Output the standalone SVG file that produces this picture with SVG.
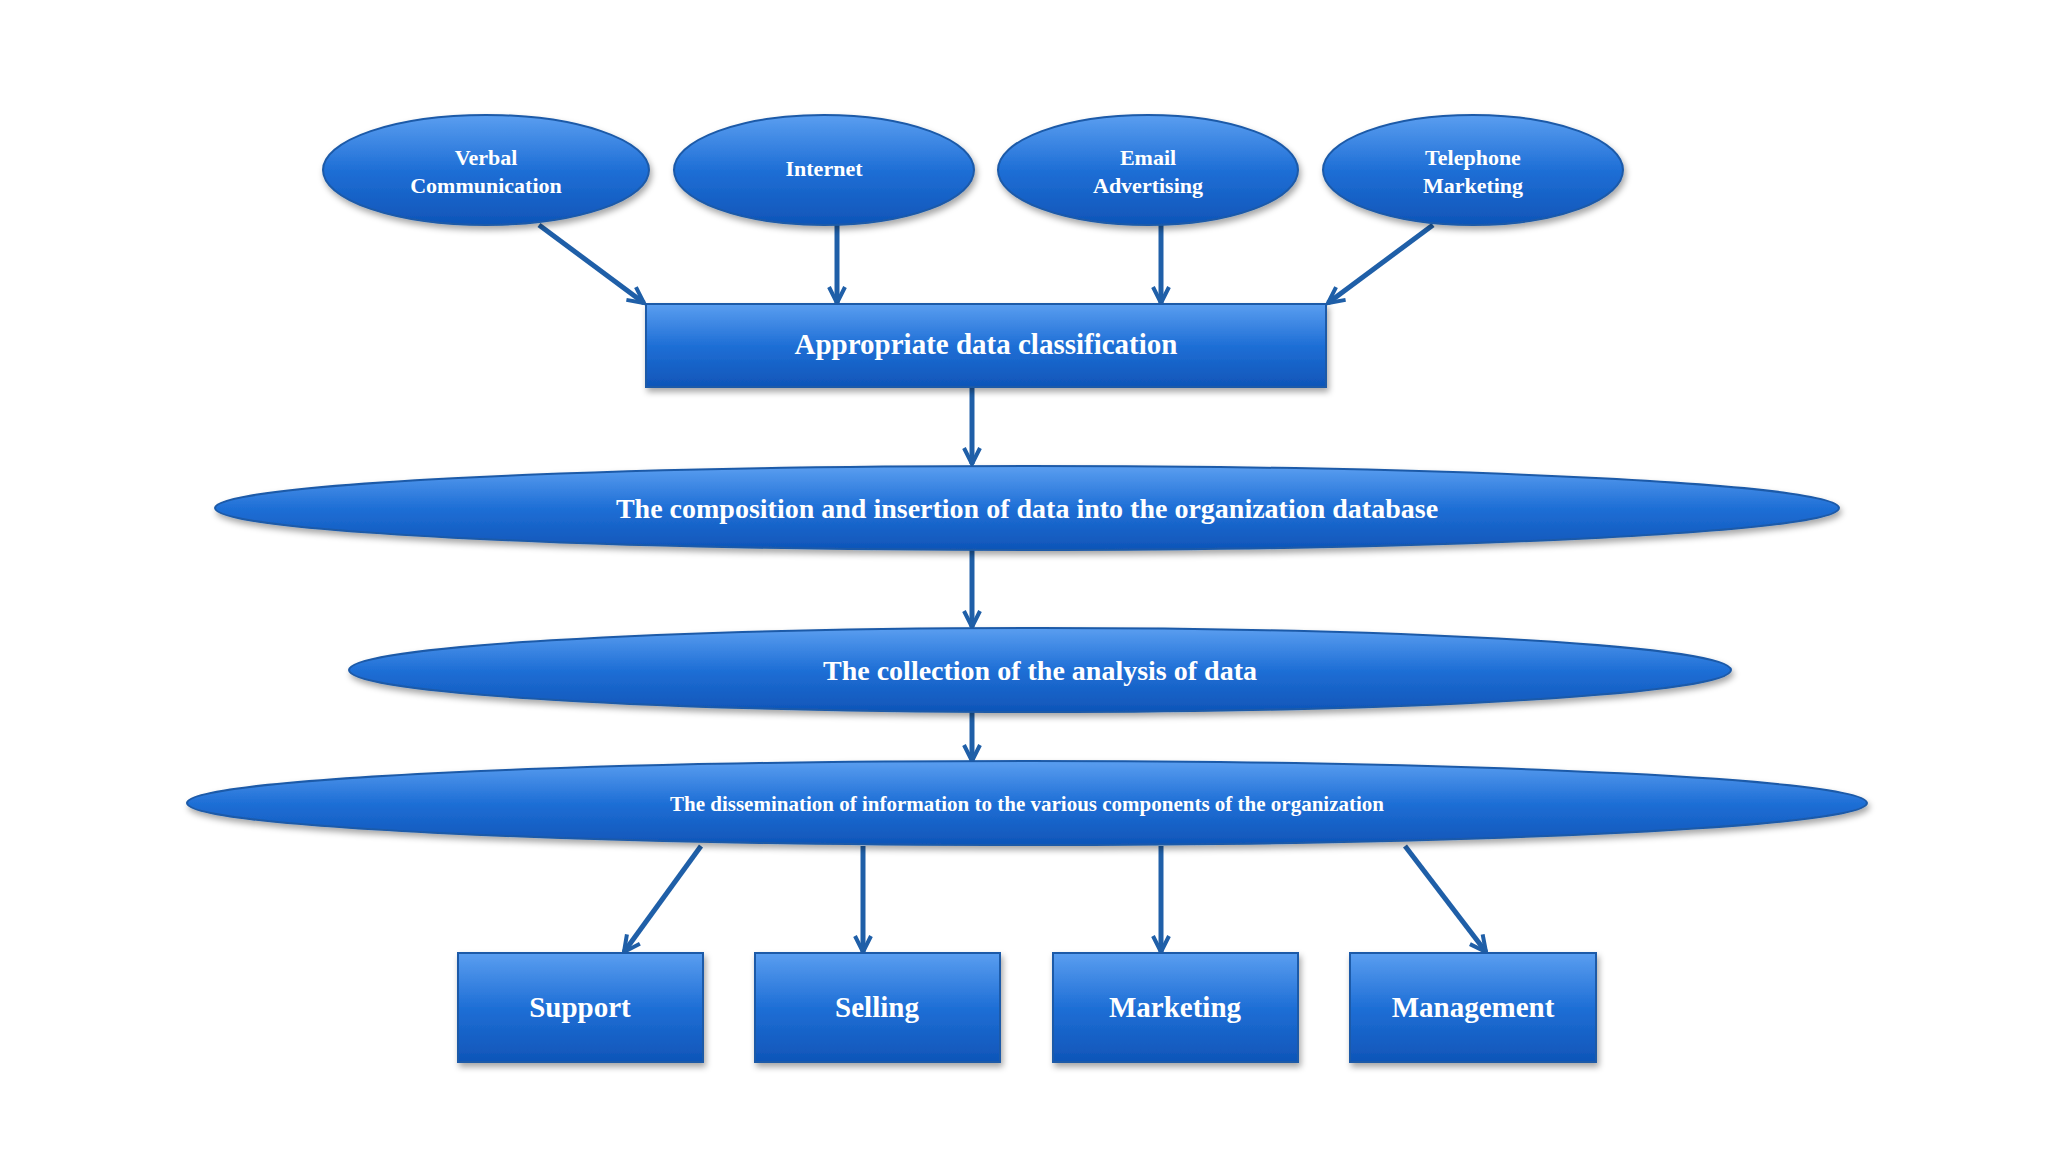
<svg xmlns="http://www.w3.org/2000/svg" width="2048" height="1152" viewBox="0 0 2048 1152">
<defs>
<linearGradient id="g" x1="0" y1="0" x2="0" y2="1">
<stop offset="0" stop-color="#5a9ef0"/><stop offset="0.5" stop-color="#1f6fd6"/><stop offset="1" stop-color="#0f55b8"/>
</linearGradient>
<filter id="sh" x="-10%" y="-20%" width="120%" height="150%"><feDropShadow dx="2" dy="4" stdDeviation="3" flood-color="#000" flood-opacity="0.35"/></filter>
<marker id="ah" viewBox="0 0 10 10" refX="9" refY="5" markerWidth="4" markerHeight="4" orient="auto"><path d="M1,1 L9,5 L1,9" fill="none" stroke="#1f5fa8" stroke-width="2"/></marker>
</defs>
<style>
.n{fill:url(#g);stroke:#1c5aa8;stroke-width:2;filter:url(#sh)}
.t{font-family:"Liberation Serif","DejaVu Serif",serif;font-weight:bold;fill:#fff;text-anchor:middle}
.c line{stroke:#1f5fa8;stroke-width:5;marker-end:url(#ah)}
</style>
<rect width="2048" height="1152" fill="#fff"/>
<g class="c">
<line x1="539" y1="225" x2="644" y2="303"/>
<line x1="837" y1="225" x2="837" y2="303"/>
<line x1="1161" y1="225" x2="1161" y2="303"/>
<line x1="1433" y1="225" x2="1328" y2="303"/>
<line x1="972" y1="387" x2="972" y2="464"/>
<line x1="972" y1="550" x2="972" y2="627"/>
<line x1="972" y1="712" x2="972" y2="761"/>
<line x1="701" y1="846" x2="624" y2="952"/>
<line x1="863" y1="846" x2="863" y2="952"/>
<line x1="1161" y1="846" x2="1161" y2="952"/>
<line x1="1405" y1="846" x2="1486" y2="952"/>
</g>
<g id="verbal"><ellipse class="n" cx="486" cy="170" rx="163" ry="55"/><text class="t" x="486" y="165" font-size="22">Verbal</text><text class="t" x="486" y="193" font-size="22">Communication</text></g>
<g id="internet"><ellipse class="n" cx="824" cy="170" rx="150" ry="55"/><text class="t" x="824" y="176" font-size="22">Internet</text></g>
<g id="email"><ellipse class="n" cx="1148" cy="170" rx="150" ry="55"/><text class="t" x="1148" y="165" font-size="22">Email</text><text class="t" x="1148" y="193" font-size="22">Advertising</text></g>
<g id="telephone"><ellipse class="n" cx="1473" cy="170" rx="150" ry="55"/><text class="t" x="1473" y="165" font-size="22">Telephone</text><text class="t" x="1473" y="193" font-size="22">Marketing</text></g>
<g id="classification"><rect class="n" x="646" y="304" width="680" height="83"/><text class="t" x="986" y="354" font-size="29">Appropriate data classification</text></g>
<g id="composition"><ellipse class="n" cx="1027" cy="508" rx="812" ry="42"/><text class="t" x="1027" y="518" font-size="28">The composition and insertion of data into the organization database</text></g>
<g id="collection"><ellipse class="n" cx="1040" cy="670" rx="691" ry="42"/><text class="t" x="1040" y="680" font-size="28">The collection of the analysis of data</text></g>
<g id="dissemination"><ellipse class="n" cx="1027" cy="803" rx="840" ry="42"/><text class="t" x="1027" y="811" font-size="21">The dissemination of information to the various components of the organization</text></g>
<g id="support"><rect class="n" x="458" y="953" width="245" height="109"/><text class="t" x="580" y="1017" font-size="29">Support</text></g>
<g id="selling"><rect class="n" x="755" y="953" width="245" height="109"/><text class="t" x="877" y="1017" font-size="29">Selling</text></g>
<g id="marketing"><rect class="n" x="1053" y="953" width="245" height="109"/><text class="t" x="1175" y="1017" font-size="29">Marketing</text></g>
<g id="management"><rect class="n" x="1350" y="953" width="246" height="109"/><text class="t" x="1473" y="1017" font-size="29">Management</text></g>
</svg>
